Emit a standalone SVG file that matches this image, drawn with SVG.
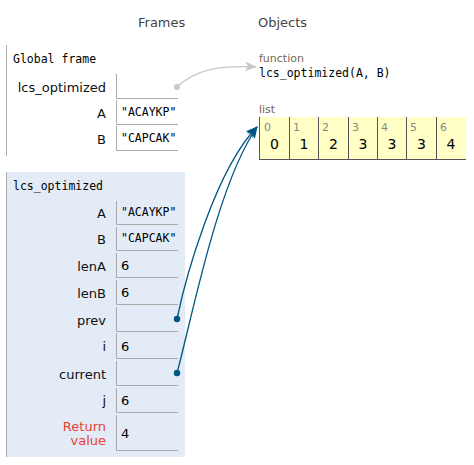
<svg xmlns="http://www.w3.org/2000/svg" width="474" height="465" viewBox="0 0 474 465">
<style>
.hd{font-family:"DejaVu Sans",Verdana,sans-serif;font-size:13px;fill:#444}
.mono{font-family:"DejaVu Sans Mono","Liberation Mono",monospace;font-size:11.5px;fill:#000}
.lbl{font-family:"DejaVu Sans",Verdana,sans-serif;font-size:13px;fill:#111;text-anchor:end}
.num{font-family:"DejaVu Sans",Verdana,sans-serif;font-size:13px;fill:#000}
.ret{font-family:"DejaVu Sans",Verdana,sans-serif;font-size:13px;fill:#e93f34;text-anchor:end}
.box{fill:none;stroke:#aaa;stroke-width:1}
.type{font-family:"DejaVu Sans",Verdana,sans-serif;font-size:11px;fill:#776650}
.idx{font-family:"DejaVu Sans",Verdana,sans-serif;font-size:11px;fill:#888}
.lv{font-family:"DejaVu Sans",Verdana,sans-serif;font-size:14px;fill:#000;text-anchor:middle}
.cell{fill:#ffffc6}
.ptr{fill:none;stroke:#005583;stroke-width:1.3}
</style>
<defs>
<marker id="ah" markerWidth="12" markerHeight="10" refX="11" refY="5" orient="auto" markerUnits="userSpaceOnUse">
<path d="M0,0 L12,5 L0,10 L3,5 Z" fill="#005583"/>
</marker>
<marker id="ahg" markerWidth="12" markerHeight="10" refX="11" refY="5" orient="auto" markerUnits="userSpaceOnUse">
<path d="M0,0 L12,5 L0,10 L3,5 Z" fill="#c8c8c8"/>
</marker>
</defs>
<text class="hd" x="138" y="27">Frames</text>
<text class="hd" x="258" y="27">Objects</text>

<g id="global_frame">
<line x1="6.5" y1="45" x2="6.5" y2="156" stroke="#aaa"/>
<text class="mono" x="13" y="63">Global frame</text>
<text class="lbl" x="106" y="92">lcs_optimized</text>
<path class="box" d="M116.5,74 V98.5 H178"/>
<text class="lbl" x="106" y="118">A</text>
<path class="box" d="M116.5,100 V124.5 H178"/>
<text class="mono" x="121" y="116">"ACAYKP"</text>
<text class="lbl" x="106" y="144">B</text>
<path class="box" d="M116.5,126 V150.5 H178"/>
<text class="mono" x="121" y="142">"CAPCAK"</text>
<circle cx="177" cy="87" r="3" fill="#c8c8c8"/>
</g>

<g id="lcs_frame">
<rect x="6" y="172" width="179" height="285" fill="#e2ebf6"/>
<line x1="6.5" y1="172" x2="6.5" y2="457" stroke="#aaa"/>
<text class="mono" x="13" y="190">lcs_optimized</text>
<text class="lbl" x="106" y="218">A</text>
<path class="box" d="M116.5,201 V224.5 H178"/>
<text class="mono" x="121" y="216">"ACAYKP"</text>
<text class="lbl" x="106" y="244">B</text>
<path class="box" d="M116.5,227 V250.5 H178"/>
<text class="mono" x="121" y="242">"CAPCAK"</text>
<text class="lbl" x="106" y="271">lenA</text>
<path class="box" d="M116.5,253 V277.5 H178"/>
<text class="num" x="121" y="270">6</text>
<text class="lbl" x="106" y="298">lenB</text>
<path class="box" d="M116.5,280 V304.5 H178"/>
<text class="num" x="121" y="297">6</text>
<text class="lbl" x="106" y="325">prev</text>
<path class="box" d="M116.5,307 V331.5 H178"/>
<text class="lbl" x="106" y="351">i</text>
<path class="box" d="M116.5,333 V358.5 H178"/>
<text class="num" x="121" y="351">6</text>
<text class="lbl" x="106" y="379">current</text>
<path class="box" d="M116.5,361 V385.5 H178"/>
<text class="lbl" x="106" y="405">j</text>
<path class="box" d="M116.5,388 V412.5 H178"/>
<text class="num" x="121" y="405">6</text>
<text class="ret" x="106" y="431">Return</text>
<text class="ret" x="106" y="445">value</text>
<path class="box" d="M116.5,415 V450.5 H178"/>
<text class="num" x="121" y="438">4</text>
<circle cx="177" cy="319" r="3.2" fill="#005583"/>
<circle cx="177" cy="373" r="3.2" fill="#005583"/>
</g>

<g id="func_obj">
<text class="type" x="259" y="62">function</text>
<text class="mono" x="259" y="77">lcs_optimized(A, B)</text>
</g>

<g id="list_obj">
<text class="type" x="259" y="113">list</text>
<rect class="cell" x="260" y="117" width="206" height="43"/>
<g stroke="#555" stroke-width="1">
<line x1="259.5" y1="117" x2="259.5" y2="160"/>
<line x1="289.5" y1="117" x2="289.5" y2="160"/>
<line x1="318.5" y1="117" x2="318.5" y2="160"/>
<line x1="348.5" y1="117" x2="348.5" y2="160"/>
<line x1="377.5" y1="117" x2="377.5" y2="160"/>
<line x1="406.5" y1="117" x2="406.5" y2="160"/>
<line x1="436.5" y1="117" x2="436.5" y2="160"/>
<line x1="259" y1="159.5" x2="466" y2="159.5"/>
</g>
<text class="idx" x="264" y="131">0</text>
<text class="idx" x="293" y="131">1</text>
<text class="idx" x="322" y="131">2</text>
<text class="idx" x="352" y="131">3</text>
<text class="idx" x="381" y="131">4</text>
<text class="idx" x="410" y="131">5</text>
<text class="idx" x="440" y="131">6</text>
<text class="lv" x="274.5" y="149">0</text>
<text class="lv" x="304" y="149">1</text>
<text class="lv" x="333.5" y="149">2</text>
<text class="lv" x="363" y="149">3</text>
<text class="lv" x="392" y="149">3</text>
<text class="lv" x="421.5" y="149">3</text>
<text class="lv" x="451" y="149">4</text>
</g>

<g id="connectors">
<path d="M177,87 C195,70 218,65 256,67" fill="none" stroke="#c8c8c8" stroke-width="1.3" marker-end="url(#ahg)"/>
<path class="ptr" d="M177,319 C185,280 215,170 257,127" marker-end="url(#ah)"/>
<path class="ptr" d="M177,373 C192,318 217,185 257,127" marker-end="url(#ah)"/>
</g>
</svg>
